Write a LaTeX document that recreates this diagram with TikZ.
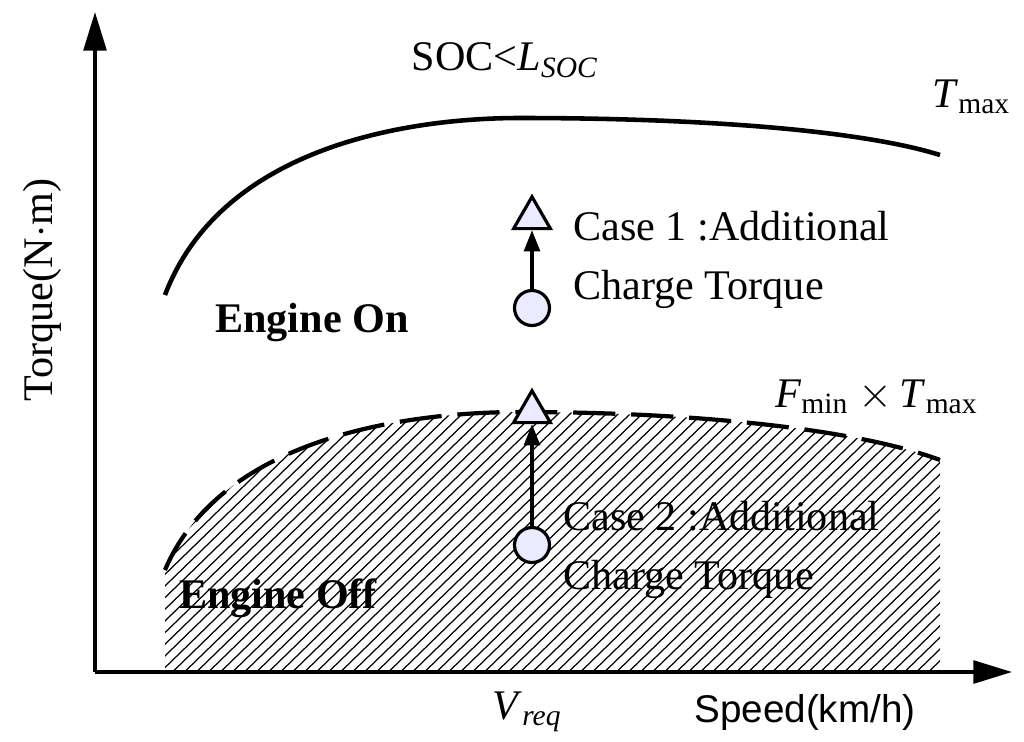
\documentclass[tikz,border=0pt]{standalone}
\usetikzlibrary{arrows.meta,shapes.geometric}
\usepackage{fontspec}
\setmainfont{Liberation Serif}
\newfontfamily\arial{Liberation Sans}
\begin{document}
\begin{tikzpicture}[x=0.02cm,y=-0.02cm,
  txt/.style={font=\fontsize{24}{28}\selectfont,inner sep=0pt},
  mark1/.style={circle,draw,line width=1.8pt,fill=blue!8,minimum size=0.7cm,inner sep=0pt},
  mark2/.style={regular polygon,regular polygon sides=3,draw,line width=1.8pt,fill=blue!8,minimum size=0.85cm,inner sep=0pt}]
\useasboundingbox (0,0) rectangle (1024,741);
% hatched region
\begin{scope}
\clip (165,672) -- (165,570) .. controls (220,440) and (400,412) .. (520,412) .. controls (700,412) and (860,430) .. (940,460) -- (940,672) -- cycle;
\foreach \i in {-30,...,90} {\draw[line width=0.7pt] (165+\i*12-150,720) -- (165+\i*12+200,380);}
\end{scope}
\draw[line width=2.4pt,dash pattern=on 24pt off 9pt] (165,570) .. controls (220,440) and (400,412) .. (520,412) .. controls (700,412) and (860,430) .. (940,460);
\draw[line width=2.6pt] (165,295) .. controls (220,150) and (400,118) .. (520,118) .. controls (700,118) and (860,130) .. (940,155);
% axes
\coordinate (o) at (95,672);
\coordinate (ytip) at (95,12);
\coordinate (xtip) at (1012,672);
\draw[line width=1.8pt,-{Triangle[length=22pt,width=13pt]}] (o) -- (ytip);
\draw[line width=1.8pt,-{Triangle[length=22pt,width=13pt]}] (o) -- (xtip);
% markers
\node[mark1] (c1) at (532,308) {};
\node[mark2] (t1) at (532,218) {};
\draw[line width=1.8pt,-{Triangle[length=12pt,width=9pt]}] (c1) -- (t1);
\node[mark1] (c2) at (532,545) {};
\node[mark2] (t2) at (532,412) {};
\draw[line width=1.8pt,-{Triangle[length=12pt,width=9pt]}] (c2) -- (t2);
% texts
\node[txt] (soc) at (505,60) {SOC<\textit{L}\textsubscript{\textit{SOC}}};
\node[txt,anchor=west] (tm) at (932,97) {\textit{T}\textsubscript{max}};
\node[txt,anchor=west,align=left] (k1) at (573,260) {Case 1 :Additional\\[6pt]Charge Torque};
\node[txt,font=\fontsize{24}{28}\selectfont\bfseries] (eon) at (312,323) {Engine On};
\node[txt,anchor=west] (fm) at (775,397) {\textit{F}\textsubscript{min} $\times$\,\textit{T}\textsubscript{max}};
\node[txt,anchor=west,align=left] (k2) at (563,550) {Case 2 :Additional\\[6pt]Charge Torque};
\node[txt,font=\fontsize{24}{28}\selectfont\bfseries] (eoff) at (278,598) {Engine Off};
\node[txt] (vr) at (527,712) {\textit{V}\textsubscript{\textit{req}}};
\node[txt,font=\fontsize{22}{26}\selectfont\arial] (sp) at (805,712) {Speed(km/h)};
\node[txt,rotate=90] (tq) at (42,290) {Torque(N$\cdot$m)};
\end{tikzpicture}
\end{document}
